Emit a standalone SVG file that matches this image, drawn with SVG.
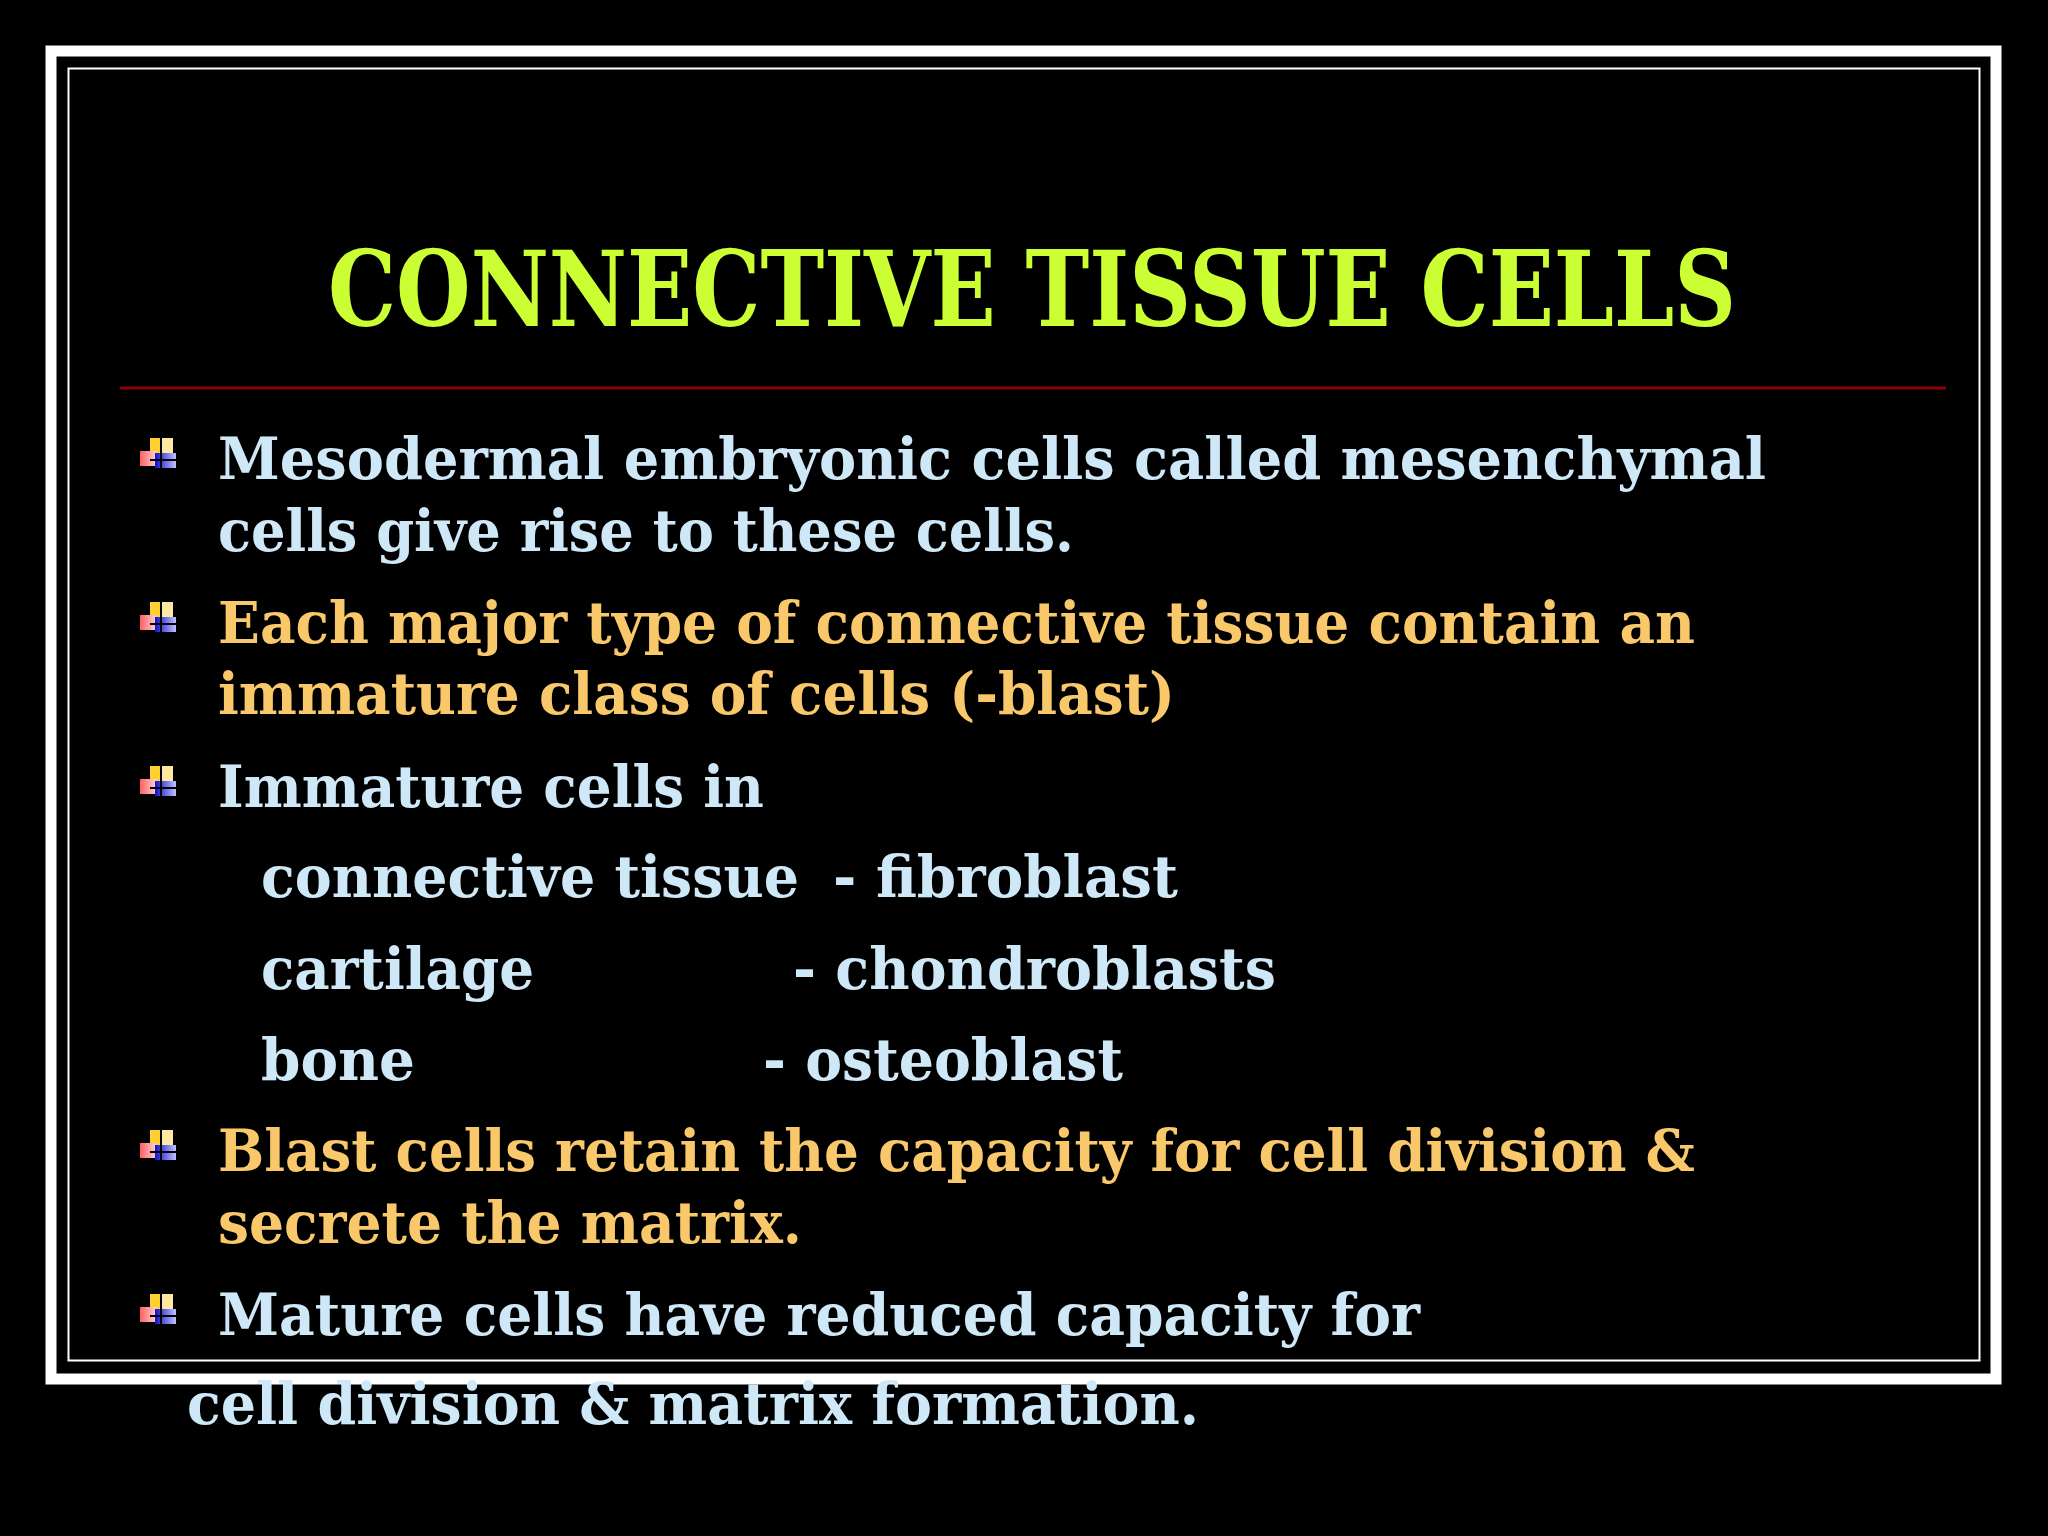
<svg xmlns="http://www.w3.org/2000/svg" width="2048" height="1536" viewBox="0 0 2048 1536">
<defs>
<linearGradient id="pk" x1="0" y1="0" x2="1" y2="0"><stop offset="0" stop-color="#ff6060"/><stop offset="1" stop-color="#ffd0d0"/></linearGradient>
<linearGradient id="bl" x1="0" y1="0" x2="1" y2="0"><stop offset="0" stop-color="#1010d0"/><stop offset="1" stop-color="#c0c0ff"/></linearGradient>
<g id="bul">
<rect x="150" y="-41" width="11" height="16" fill="#ffd030"/>
<rect x="162" y="-41" width="11" height="16" fill="#ffe8a0"/>
<rect x="140" y="-28" width="16" height="15" fill="url(#pk)"/>
<rect x="155" y="-26" width="21" height="15" fill="url(#bl)"/>
<rect x="160" y="-41" width="2" height="31" fill="#000"/>
<rect x="150" y="-20" width="26" height="2" fill="#000"/>
</g>
</defs>
<style>
.t{font-family:"DejaVu Serif","Liberation Serif",serif;font-weight:bold;font-size:58px}
.b{fill:#cfe8f8}.o{fill:#f9c86a}
</style>
<rect width="2048" height="1536" fill="#000"/>
<g id="frame" fill="none">
<rect x="51" y="51" width="1945" height="1328" stroke="#fff" stroke-width="11"/>
<rect x="68.5" y="68.5" width="1911" height="1292" stroke="#fff" stroke-width="2"/>
</g>
<text x="1032" y="326" text-anchor="middle" font-family="DejaVu Serif,serif" font-weight="bold" font-size="104" fill="#ccff33" textLength="1408" lengthAdjust="spacingAndGlyphs">CONNECTIVE TISSUE CELLS</text>
<line x1="120" y1="388" x2="1946" y2="388" stroke="#8b0000" stroke-width="3"/>
<use href="#bul" y="479"/><use href="#bul" y="643"/><use href="#bul" y="807"/><use href="#bul" y="1171"/><use href="#bul" y="1335"/>
<g class="t" lengthAdjust="spacingAndGlyphs">
<text class="t b" x="218" y="479" textLength="1548" lengthAdjust="spacingAndGlyphs">Mesodermal embryonic cells called mesenchymal</text>
<text class="t b" x="218" y="551" textLength="856" lengthAdjust="spacingAndGlyphs">cells give rise to these cells.</text>
<text class="t o" x="218" y="643" textLength="1477" lengthAdjust="spacingAndGlyphs">Each major type of connective tissue contain an</text>
<text class="t o" x="218" y="714" textLength="957" lengthAdjust="spacingAndGlyphs">immature class of cells (-blast)</text>
<text class="t b" x="218" y="807" textLength="546" lengthAdjust="spacingAndGlyphs">Immature cells in</text>
<text class="t b" x="261" y="897" textLength="538" lengthAdjust="spacingAndGlyphs">connective tissue</text>
<text class="t b" x="833" y="897" textLength="345" lengthAdjust="spacingAndGlyphs">- fibroblast</text>
<text class="t b" x="261" y="989" textLength="273" lengthAdjust="spacingAndGlyphs">cartilage</text>
<text class="t b" x="793" y="989" textLength="483" lengthAdjust="spacingAndGlyphs">- chondroblasts</text>
<text class="t b" x="261" y="1080" textLength="154" lengthAdjust="spacingAndGlyphs">bone</text>
<text class="t b" x="763" y="1080" textLength="360" lengthAdjust="spacingAndGlyphs">- osteoblast</text>
<text class="t o" x="218" y="1171" textLength="1477" lengthAdjust="spacingAndGlyphs">Blast cells retain the capacity for cell division &amp;</text>
<text class="t o" x="218" y="1243" textLength="584" lengthAdjust="spacingAndGlyphs">secrete the matrix.</text>
<text class="t b" x="218" y="1335" textLength="1202" lengthAdjust="spacingAndGlyphs">Mature cells have reduced capacity for</text>
<text class="t b" x="187" y="1424" textLength="1012" lengthAdjust="spacingAndGlyphs">cell division &amp; matrix formation.</text>
</g>
</svg>
